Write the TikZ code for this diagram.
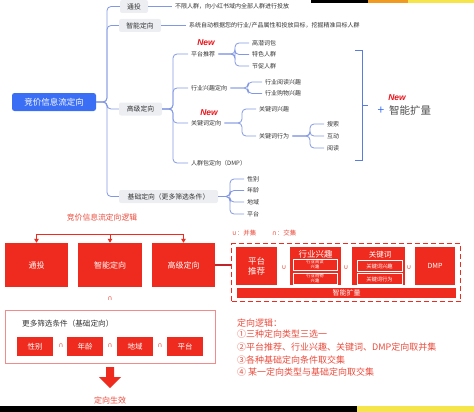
\documentclass[tikz,border=0pt]{standalone}
\usepackage{fontspec}
\setmainfont{Noto Sans CJK SC}
\newfontfamily\newf{Liberation Sans}
\newfontfamily\symf{DejaVu Sans}
\usetikzlibrary{arrows.meta}
\definecolor{mmline}{HTML}{8298E2}
\definecolor{brk}{HTML}{5B7BDD}
\definecolor{rootblue}{HTML}{3A6EF5}
\definecolor{gbox}{HTML}{ECEEF2}
\definecolor{tgray}{HTML}{333333}
\definecolor{rred}{HTML}{EE2B1E}
\definecolor{dred}{HTML}{BE262C}
\definecolor{lred}{HTML}{EA4B3C}
\definecolor{pinkb}{HTML}{F08C8C}
\definecolor{newred}{HTML}{E8141B}
\definecolor{bylw}{HTML}{F6E54A}
\definecolor{borg}{HTML}{F09A20}
\begin{document}
\begin{tikzpicture}[x=1pt,y=-1pt,
  mm/.style={draw=mmline, line width=0.8pt, rounded corners=4pt},
  rootbox/.style={fill=rootblue, rounded corners=2.5pt, text=white, minimum width=84pt, minimum height=18pt, inner sep=1pt, font=\fontsize{8.5}{9}\selectfont},
  gb/.style={fill=gbox, rounded corners=2pt, text=tgray, minimum height=13pt, inner sep=1pt, font=\fontsize{6.8}{7}\selectfont},
  leaf/.style={anchor=west, inner sep=3pt, text=tgray, font=\fontsize{6}{6}\selectfont},
  newl/.style={text=newred, inner sep=0pt, font=\newf\bfseries\itshape\fontsize{8.5}{9}\selectfont},
  rbox/.style={fill=rred, text=white, inner sep=1pt, font=\fontsize{8}{9.5}\selectfont, align=center},
  subbox/.style={fill=rred, draw=white, line width=0.6pt, text=white, inner sep=0pt, align=center},
  rline/.style={draw=rred, line width=1pt},
  redtxt/.style={text=lred, inner sep=0pt},
  capsym/.style={text=lred, inner sep=0pt, font=\symf\fontsize{6.5}{7}\selectfont},
  logic/.style={text=lred, anchor=west, inner sep=0pt, font=\fontsize{9}{10}\selectfont}
]
\useasboundingbox (0,0) rectangle (474,412);
% top and bottom bars
\fill[black] (311,0) rectangle (368,3);
\fill[borg] (368,0) rectangle (408,3);
\fill[bylw] (408,0) rectangle (474,3);
\fill[black] (0,406) rectangle (357,412);
\fill[bylw] (357,406) rectangle (474,412);

% ---------- mind map ----------
\node[rootbox] (root) at (54,102) {竞价信息流定向};
\node[gb, minimum width=28pt] (tt) at (134,6.5) {通投};
\node[gb, minimum width=42pt] (zn) at (140,25.5) {智能定向};
\node[gb, minimum width=43pt] (gj) at (140.5,109) {高级定向};
\node[gb, minimum width=99pt] (jc) at (168.5,196.5) {基础定向（更多筛选条件）};
\coordinate (sp0) at (107,0);
\foreach \c in {tt,zn,gj,jc}{\draw[mm] (root.east) -- (root.east -| sp0) |- (\c.west);}

\node[leaf] (ttd) at (172,6.5) {不限人群，向小红书域内全部人群进行投放};
\node[leaf] (znd) at (186,25.5) {系统自动根据您的行业/产品属性和投放目标，挖掘精准目标人群};
\draw[mm] (tt.east) -- (ttd.west);
\draw[mm] (zn.east) -- (znd.west);

\node[leaf] (pt) at (188,54) {平台推荐};
\node[leaf] (hy) at (188,88) {行业兴趣定向};
\node[leaf] (kw) at (188,123) {关键词定向};
\node[leaf] (dm) at (188,163) {人群包定向（DMP）};
\coordinate (sp1) at (173,0);
\foreach \c in {pt,hy,kw,dm}{\draw[mm] (gj.east) -- (gj.east -| sp1) |- (\c.west);}

\node[newl] (new1) at (206,43) {New};
\node[newl] (new2) at (209,113) {New};

\node[leaf] (pt1) at (249,43) {高潜词包};
\node[leaf] (pt2) at (249,54.5) {特色人群};
\node[leaf] (pt3) at (249,66) {节促人群};
\coordinate (sp2) at (235,0);
\foreach \c in {pt1,pt2,pt3}{\draw[mm] (pt.east) -- (pt.east -| sp2) |- (\c.west);}

\node[leaf] (hy1) at (262,82) {行业阅读兴趣};
\node[leaf] (hy2) at (262,93.5) {行业购物兴趣};
\coordinate (sp3) at (248,0);
\foreach \c in {hy1,hy2}{\draw[mm] (hy.east) -- (hy.east -| sp3) |- (\c.west);}

\node[leaf] (kw1) at (256,109) {关键词兴趣};
\node[leaf] (kw2) at (256,136) {关键词行为};
\coordinate (sp4) at (242,0);
\foreach \c in {kw1,kw2}{\draw[mm] (kw.east) -- (kw.east -| sp4) |- (\c.west);}

\node[leaf] (s1) at (324,124) {搜索};
\node[leaf] (s2) at (324,136) {互动};
\node[leaf] (s3) at (324,148) {阅读};
\coordinate (sp5) at (310,0);
\foreach \c in {s1,s2,s3}{\draw[mm] (kw2.east) -- (kw2.east -| sp5) |- (\c.west);}

\node[leaf] (j1) at (244,179) {性别};
\node[leaf] (j2) at (244,190.5) {年龄};
\node[leaf] (j3) at (244,202) {地域};
\node[leaf] (j4) at (244,214) {平台};
\coordinate (sp6) at (230,0);
\foreach \c in {j1,j2,j3,j4}{\draw[mm] (jc.east) -- (jc.east -| sp6) |- (\c.west);}

% big bracket
\draw[brk, line width=1pt] (355,51) -- (362,51) -- (362,160) -- (355,160);
\draw[brk, line width=1pt] (362,105) -- (368,105);
\node[text=rootblue, inner sep=0pt, font=\fontsize{12}{12}\selectfont] (plus) at (381,111) {+};
\node[text=black!70, anchor=west, inner sep=0pt, font=\fontsize{10.5}{11}\selectfont] (znkl) at (389,111) {智能扩量};
\node[newl] (new3) at (397,98) {New};

% ---------- logic diagram ----------
\node[redtxt, font=\fontsize{7.8}{8}\selectfont] (ltitle) at (102,218) {竞价信息流定向逻辑};
\node[rbox, minimum width=63pt, minimum height=44pt] (b1) at (36.5,265) {通投};
\node[rbox, minimum width=64pt, minimum height=44pt] (b2) at (110,265) {智能定向};
\node[rbox, minimum width=63pt, minimum height=44pt] (b3) at (183.5,265) {高级定向};
\coordinate (hl) at (36.5,234);
\coordinate (hm) at (110,234);
\coordinate (hr) at (183.5,234);
\draw[rline] (hl) -- (hr);
\foreach \a/\b in {hl/b1,hm/b2,hr/b3}{\draw[rline,-{Triangle[length=4pt,width=4.5pt]}] (\a) -- (\b.north);}

\node[draw=rred, line width=1.5pt, dash pattern=on 5pt off 3pt, minimum width=229pt, minimum height=58pt, inner sep=0pt] (dbox) at (346,272.5) {};
\draw[dred, line width=1.5pt] (b3.east) -- (b3.east -| dbox.west);

\node[capsym, anchor=west] (leg1) at (232,233) {∪\fontspec{Noto Sans CJK SC}：并集};
\node[capsym, anchor=west] (leg2) at (272,233) {∩\fontspec{Noto Sans CJK SC}：交集};

\node[rbox, minimum width=41pt, minimum height=38pt, font=\fontsize{8.5}{10}\selectfont] (ipt) at (256.5,266) {平台\\推荐};
\node[rbox, minimum width=51pt, minimum height=38pt] (ihy) at (315.5,266) {};
\node[text=white, inner sep=0pt, font=\fontsize{8.5}{9}\selectfont] (ihyt) at (315.5,254) {行业兴趣};
\node[subbox, minimum width=44pt, minimum height=11pt, font=\fontsize{4.3}{4.6}\selectfont] (ihy1) at (315,264.5) {行业阅读\\兴趣};
\node[subbox, minimum width=44pt, minimum height=11pt, font=\fontsize{4.3}{4.6}\selectfont] (ihy2) at (315,278.5) {行业购物\\兴趣};
\node[rbox, minimum width=53pt, minimum height=38pt] (ikw) at (378.5,266) {};
\node[text=white, inner sep=0pt, font=\fontsize{7.5}{8}\selectfont] (ikwt) at (380,255) {关键词};
\node[subbox, minimum width=45pt, minimum height=10.5pt, font=\fontsize{5.3}{5.5}\selectfont] (ikw1) at (379.5,266) {关键词兴趣};
\node[subbox, minimum width=45pt, minimum height=10.5pt, font=\fontsize{5.3}{5.5}\selectfont] (ikw2) at (379.5,279) {关键词行为};
\node[rbox, minimum width=40pt, minimum height=38pt, font=\fontsize{7}{8}\selectfont] (idmp) at (435,266) {DMP};
\node[capsym] (u1) at (284,268) {∪};
\node[capsym] (u2) at (346,268) {∪};
\node[capsym] (u3) at (409,268) {∪};
\node[rbox, minimum width=219pt, minimum height=10pt, inner sep=0pt, font=\fontsize{7}{7.5}\selectfont] (ibar) at (346.5,293) {智能扩量};

\node[capsym] (n0) at (110,299) {∩};
\node[draw=pinkb, line width=1pt, minimum width=210pt, minimum height=53pt, inner sep=0pt] (fbox) at (110,336.5) {};
\node[text=tgray, anchor=west, inner sep=0pt, font=\fontsize{7.6}{8}\selectfont] (ftitle) at (22,324) {更多筛选条件（基础定向）};
\node[rbox, minimum width=36pt, minimum height=19pt, font=\fontsize{7.5}{8}\selectfont] (f1) at (35,346.5) {性别};
\node[rbox, minimum width=36pt, minimum height=19pt, font=\fontsize{7.5}{8}\selectfont] (f2) at (85,346.5) {年龄};
\node[rbox, minimum width=36pt, minimum height=19pt, font=\fontsize{7.5}{8}\selectfont] (f3) at (135,346.5) {地域};
\node[rbox, minimum width=36pt, minimum height=19pt, font=\fontsize{7.5}{8}\selectfont] (f4) at (185,346.5) {平台};
\node[capsym] (n1) at (61,346) {∩};
\node[capsym] (n2) at (110,346) {∩};
\node[capsym] (n3) at (160,346) {∩};

\fill[rred] (106,367) -- (114,367) -- (114,377) -- (121,377) -- (110,388) -- (99,377) -- (106,377) -- cycle;
\node[redtxt, font=\fontsize{8}{8.5}\selectfont] (eff) at (110,400) {定向生效};

\node[logic] (lg0) at (237,323) {定向逻辑：};
\node[logic] (lg1) at (237,334.5) {①三种定向类型三选一};
\node[logic] (lg2) at (237,347.5) {②平台推荐、行业兴趣、关键词、DMP定向取并集};
\node[logic] (lg3) at (237,360) {③各种基础定向条件取交集};
\node[logic] (lg4) at (237,372.5) {④ 某一定向类型与基础定向取交集};
\end{tikzpicture}
\end{document}
